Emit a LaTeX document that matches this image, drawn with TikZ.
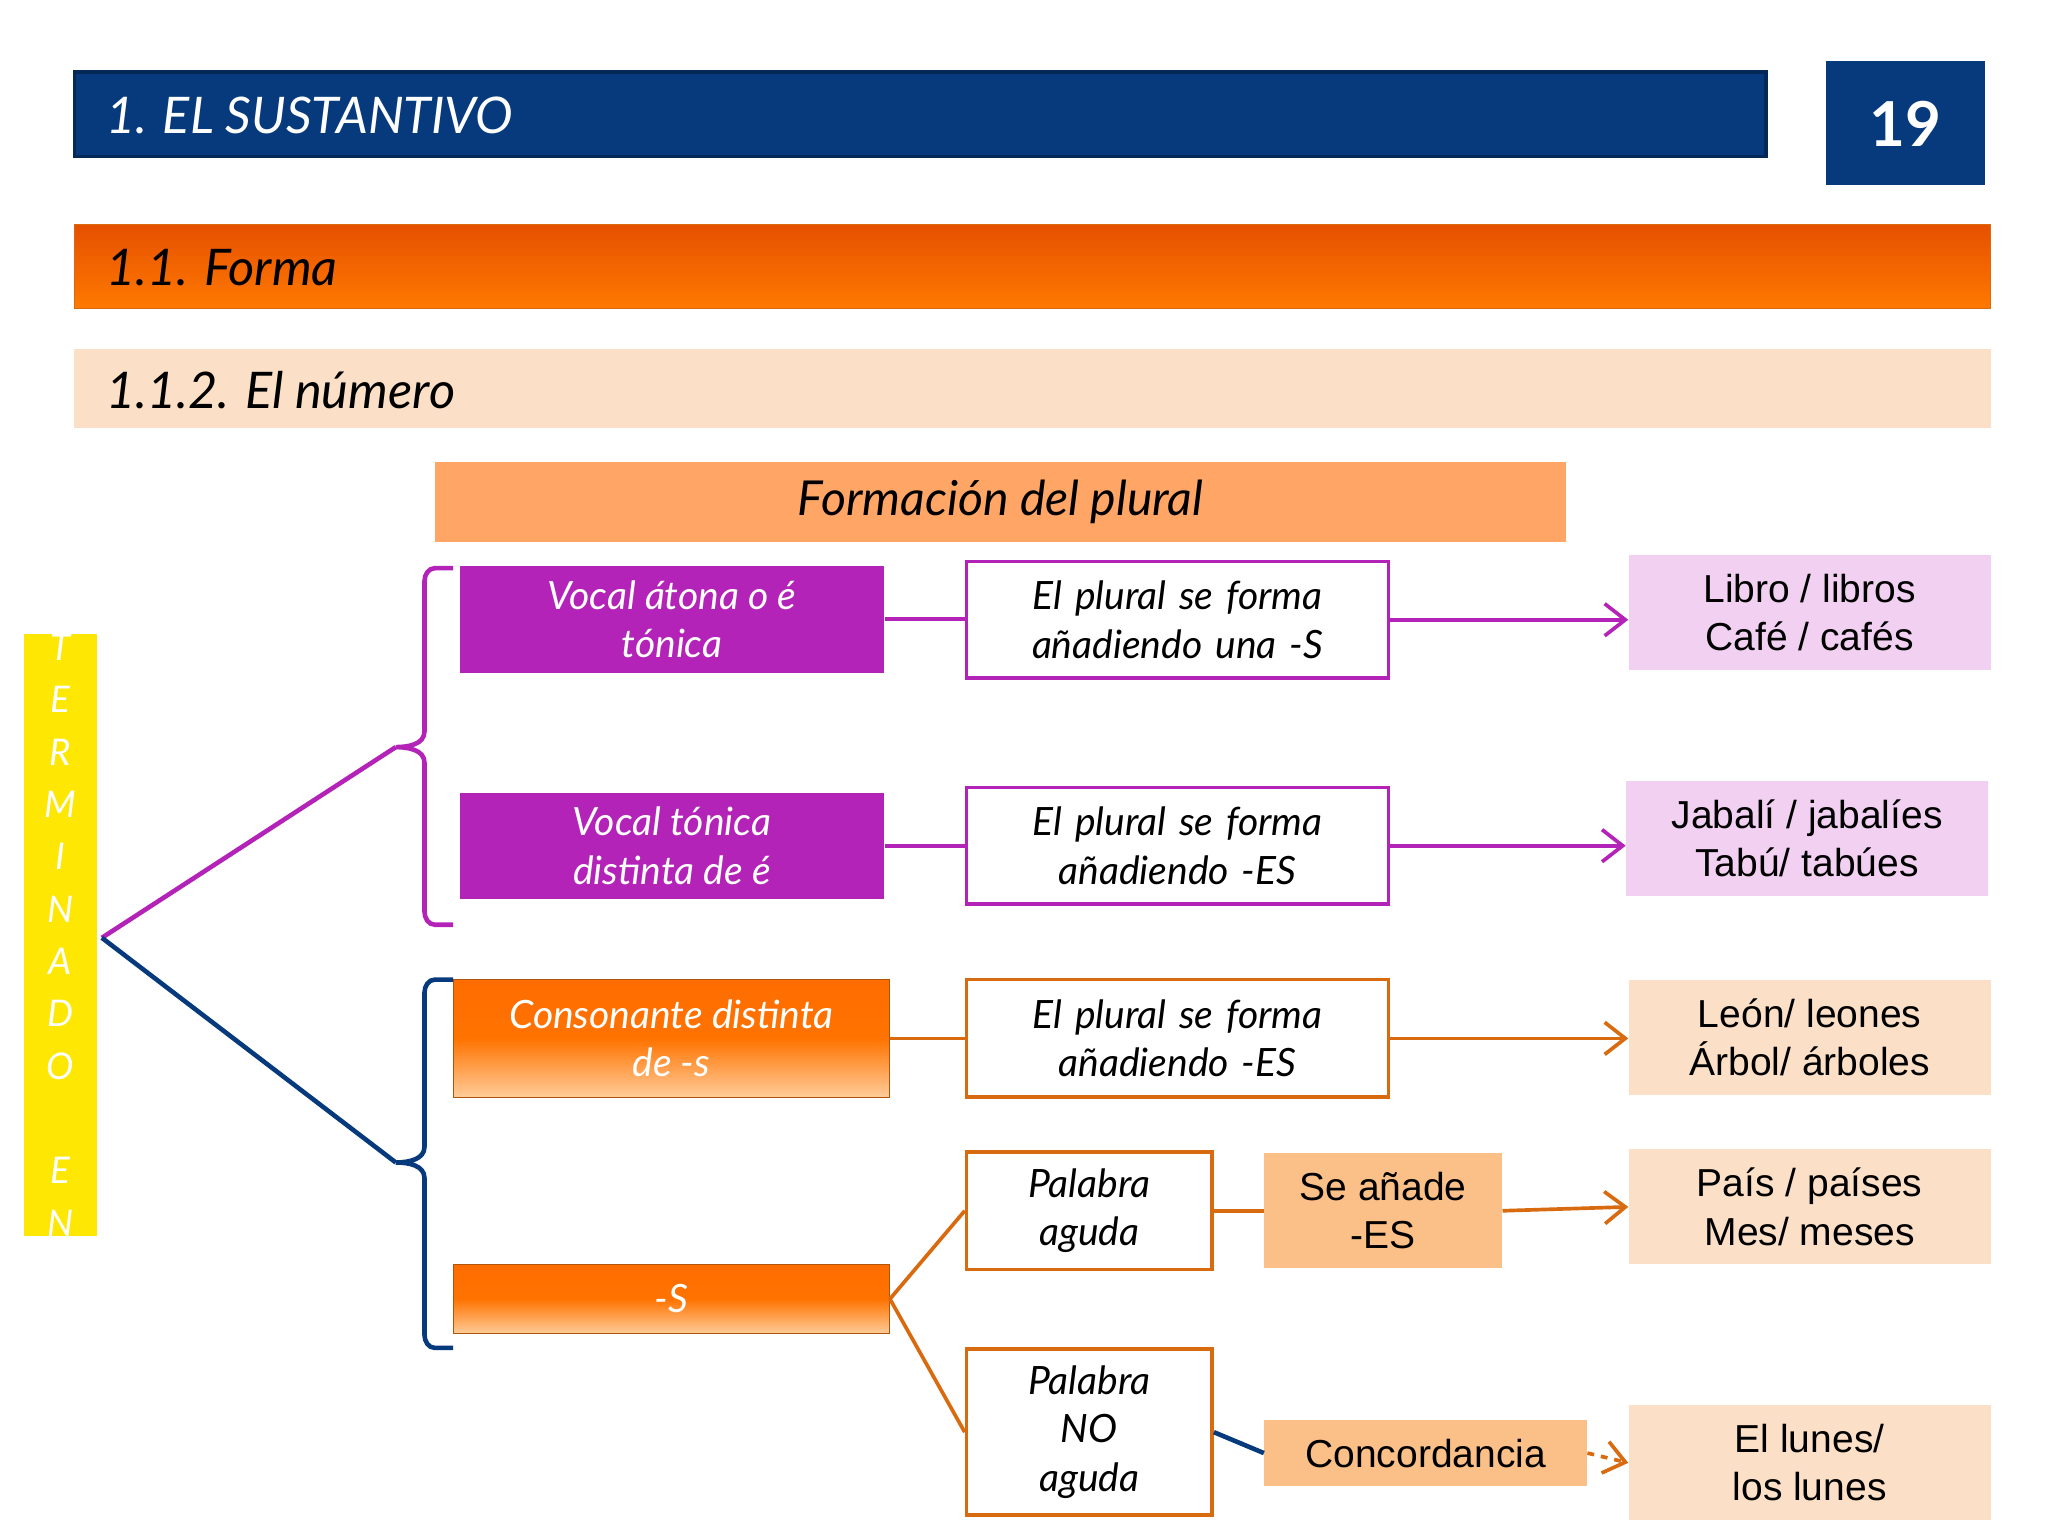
\documentclass[tikz,border=0pt]{standalone}
\usepackage{fontspec}
\setmainfont{Lato}
\newfontfamily\ar{Liberation Sans}
\usetikzlibrary{arrows.meta}
\definecolor{navy}{HTML}{063A7C}
\definecolor{purp}{HTML}{B423B8}
\definecolor{oran}{HTML}{D86A10}
\definecolor{pinkb}{HTML}{F2D0F2}
\definecolor{peach}{HTML}{FBDFC6}
\definecolor{sea}{HTML}{FBBF88}
\newcommand\bx[7]{\node[#6,inner sep=0pt,align=center,minimum width={(#4-#2)*0.02cm},minimum height={(#5-#3)*0.02cm}] (#1) at ({(#2+#4)/2},{(#3+#5)/2}) {#7};}
\tikzset{
 body/.style={font=\fontsize{17}{21}\selectfont\itshape},
 abody/.style={font=\ar\fontsize{17}{21}\selectfont},
 pbox/.style={fill=purp,text=white,body},
 pout/.style={draw=purp,line width=1.6pt,body,align=left},
 oout/.style={draw=oran,line width=1.6pt,body},
 obox/.style={draw=oran!80!black,top color=orange!85!red,bottom color=orange!40,middle color=orange!90!red,text=white,body},
 ex/.style={abody},
 conP/.style={purp,line width=1.6pt},
 conO/.style={oran,line width=1.6pt},
 arr/.style={-{Straight Barb[length=9pt,width=14pt,line width=1.6pt]}}
}
\begin{document}
\begin{tikzpicture}[x=0.02cm,y=-0.02cm]
\useasboundingbox (0,0) rectangle (1568,1176);
\bx{t}{57}{55}{1352}{120}{fill=navy,draw=navy!70!black,line width=1.5pt}{}
\node[anchor=west,text=white,font=\fontsize{22}{26}\selectfont\itshape] at (75,88) {1. EL SUSTANTIVO};
\bx{num}{1398}{47}{1520}{142}{fill=navy,text=white,font=\fontsize{27}{30}\selectfont\bfseries}{19}
\bx{f}{57}{172}{1524}{236}{top color=orange!70!red!90!black,bottom color=orange!95!red,draw=oran}{}
\node[anchor=west,font=\fontsize{22}{26}\selectfont\itshape] at (75,205) {1.1. Forma};
\bx{n}{57}{267}{1524}{328}{fill=peach}{}
\node[anchor=west,font=\fontsize{22}{26}\selectfont\itshape] at (75,299) {1.1.2. El número};
\bx{fp}{333}{354}{1199}{415}{fill=orange!55!pink!90!white,font=\fontsize{21}{25}\selectfont\itshape}{Formación del plural}
\bx{ten}{18}{492}{74}{940}{fill=yellow!90!orange,text=white,font=\fontsize{16}{22.8}\selectfont\itshape}{T\\E\\R\\M\\I\\N\\A\\D\\O\\[22.8pt]E\\N}
% purple branch
\bx{v1}{352}{433}{677}{515}{pbox}{Vocal átona o é\\tónica}
\bx{v2}{352}{607}{677}{688}{pbox}{Vocal tónica\\distinta de é}
\bx{p1}{740}{430}{1063}{519}{pout,text width={(1063-740)*0.02cm-30pt}}{El plural se forma\\añadiendo una -S}
\bx{p2}{740}{603}{1063}{692}{pout,text width={(1063-740)*0.02cm-30pt}}{El plural se forma\\añadiendo -ES}
\bx{e1}{1247}{425}{1524}{513}{fill=pinkb,ex}{Libro / libros\\Café / cafés}
\bx{e2}{1245}{598}{1522}{686}{fill=pinkb,ex}{Jabalí / jabalíes\\Tabú/ tabúes}
\draw[conP] (v1.east) -- (p1.west|-v1.east);
\draw[conP] (v2.east) -- (p2.west|-v2.east);
\draw[conP,arr] (p1.east) -- (e1.west|-p1.east);
\draw[conP,arr] (p2.east) -- (e2.west|-p2.east);
% orange branch
\bx{c1}{347}{750}{681}{840}{obox}{Consonante distinta\\de -s}
\bx{s}{347}{968}{681}{1021}{obox}{-S}
\bx{p3}{740}{750}{1063}{840}{oout,align=left,text width={(1063-740)*0.02cm-30pt}}{El plural se forma\\añadiendo -ES}
\bx{e3}{1247}{750}{1524}{838}{fill=peach,ex}{León/ leones\\Árbol/ árboles}
\bx{pa}{740}{882}{928}{972}{oout}{Palabra\\aguda}
\bx{se}{968}{883}{1150}{971}{fill=sea,abody}{Se añade\\-ES}
\bx{e4}{1247}{880}{1524}{968}{fill=peach,ex}{País / países\\Mes/ meses}
\bx{pn}{740}{1033}{928}{1160}{oout}{Palabra\\NO\\aguda}
\bx{co}{968}{1087}{1215}{1138}{fill=sea,abody}{Concordancia}
\bx{e5}{1247}{1076}{1524}{1164}{fill=peach,ex}{El lunes/\\los lunes}
\draw[conO] (c1.east) -- (p3.west|-c1.east);
\draw[conO,arr] (p3.east) -- (e3.west|-p3.east);
\draw[conO] (s.east) -- (pa.west);
\draw[conO] (s.east) -- (pn.west);
\draw[conO] (pa.east) -- (se.west);
\draw[conO,arr] (se.east) -- (e4.west);
\draw[navy,line width=2pt] (pn.east) -- (co.west);
\draw[conO,arr,dashed] (co.east) -- (e5.west);
% braces and root
\coordinate (root) at (78,718);
\coordinate (bt) at (303,572);
\coordinate (bb) at (303,890);
\draw[purp,line width=2pt] (347,435) -- (333,435) to[out=180,in=90] (325,445) -- (325,560) to[out=-90,in=0] (303,572) to[out=0,in=90] (325,584) -- (325,698) to[out=-90,in=180] (333,708) -- (347,708);
\draw[navy,line width=2pt] (347,750) -- (333,750) to[out=180,in=90] (325,760) -- (325,878) to[out=-90,in=0] (303,890) to[out=0,in=90] (325,902) -- (325,1022) to[out=-90,in=180] (333,1032) -- (347,1032);
\draw[purp,line width=2pt] (root) -- (bt);
\draw[navy,line width=2pt] (root) -- (bb);
\end{tikzpicture}
\end{document}
